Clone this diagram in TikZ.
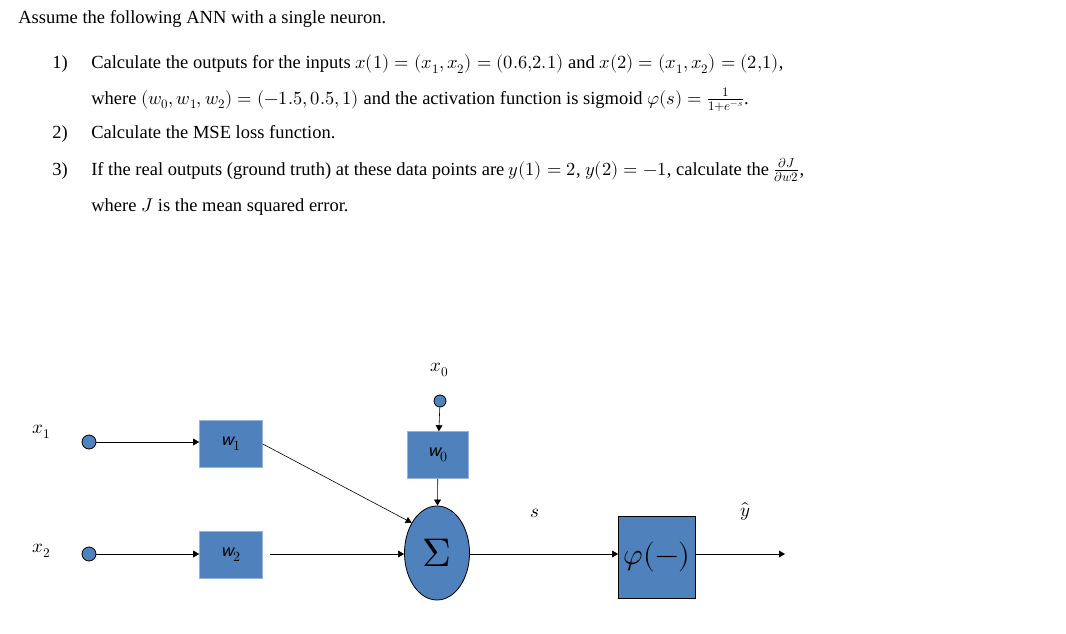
\documentclass[tikz,border=0pt]{standalone}
\usepackage{amsmath}
\usepackage{fontspec}
\usepackage{unicode-math}
\setmainfont{Liberation Serif}
\setmathfont{Latin Modern Math}
\usetikzlibrary{arrows,positioning,shapes.geometric}
\definecolor{boxblue}{HTML}{4F81BD}
\begin{document}
\begin{tikzpicture}[x=1pt,y=-1pt,>=triangle 60,semithick]
  \tikzstyle{weight}=[fill=boxblue,draw=boxblue!60,minimum width=63pt,minimum height=47pt,font=\fontsize{20}{22}\selectfont\sffamily\itshape]
  \tikzstyle{inp}=[circle,fill=boxblue,draw=black,thick,inner sep=0pt,minimum size=14pt]
  \tikzstyle{txt}=[anchor=base west,inner sep=0pt,font=\fontsize{18.5}{20}\selectfont]

  \useasboundingbox (0,0) rectangle (1066,634);

  % question text
  \node[txt] (t0) at (18,24) {Assume the following ANN with a single neuron.};
  \node[txt] (n1) at (52,69) {1)};
  \node[txt] (l1) at (91,69) {Calculate the outputs for the inputs $x(1)=(x_1,x_2)=(0.6{,}2.1)$ and $x(2)=(x_1,x_2)=(2{,}1)$,};
  \node[txt] (l1b) at (91,104) {where $(w_0,w_1,w_2)=(-1.5,0.5,1)$ and the activation function is sigmoid $\varphi(s)=\frac{1}{1+e^{-s}}$.};
  \node[txt] (n2) at (52,139) {2)};
  \node[txt] (l2) at (91,139) {Calculate the MSE loss function.};
  \node[txt] (n3) at (52,175) {3)};
  \node[txt] (l3) at (91,175) {If the real outputs (ground truth) at these data points are $y(1)=2$, $y(2)=-1$, calculate the $\frac{\partial J}{\partial w2}$,};
  \node[txt] (l3b) at (91,211) {where $J$ is the mean squared error.};

  % network
  \node[inp] (i1) at (89,442) {};
  \node[inp] (i2) at (89,554) {};
  \node[inp,minimum size=12pt] (i0) at (440,401) {};
  \node[font=\fontsize{19}{20}\selectfont] (x1) at (42,432) {$x_1$};
  \node[font=\fontsize{19}{20}\selectfont] (x2) at (42,551) {$x_2$};
  \node[font=\fontsize{19}{20}\selectfont] (x0) at (440,370) {$x_0$};

  \node[weight] (w1) at (231,444) {w$_1$};
  \node[weight] (w2) at (231,555) {w$_2$};
  \node[weight,minimum width=61pt] (w0) at (438,455) {w$_0$};
  \node[ellipse,fill=boxblue,draw=black,thick,inner sep=0pt,minimum width=65pt,minimum height=94pt,font=\fontsize{40}{42}\selectfont] (sum) at (437,553) {$\Sigma$};
  \node[fill=boxblue,draw=black,thick,inner sep=0pt,minimum width=77pt,minimum height=82pt,font=\fontsize{30}{32}\selectfont] (phi) at (657,557) {$\varphi(-)$};
  \node[font=\fontsize{19}{20}\selectfont] (s) at (535,513) {$s$};
  \node[font=\fontsize{19}{20}\selectfont] (yh) at (745,511) {$\hat{y}$};
  \coordinate (out) at (785,554);
  \coordinate (w2r) at (270,554);

  \draw[->] (i1) -- (w1.west |- i1);
  \draw[->] (i2) -- (w2.west |- i2);
  \draw[->] (i0) -- (w0);
  \draw[->] (w1.east) -- (sum.130);
  \draw[->] (w2r) -- (sum.west |- w2r);
  \draw[->] (w0) -- (sum);
  \draw[->] (sum.east |- w2r) -- (phi.west |- w2r);
  \draw[->] (phi.east |- out) -- (out);
\end{tikzpicture}
\end{document}
